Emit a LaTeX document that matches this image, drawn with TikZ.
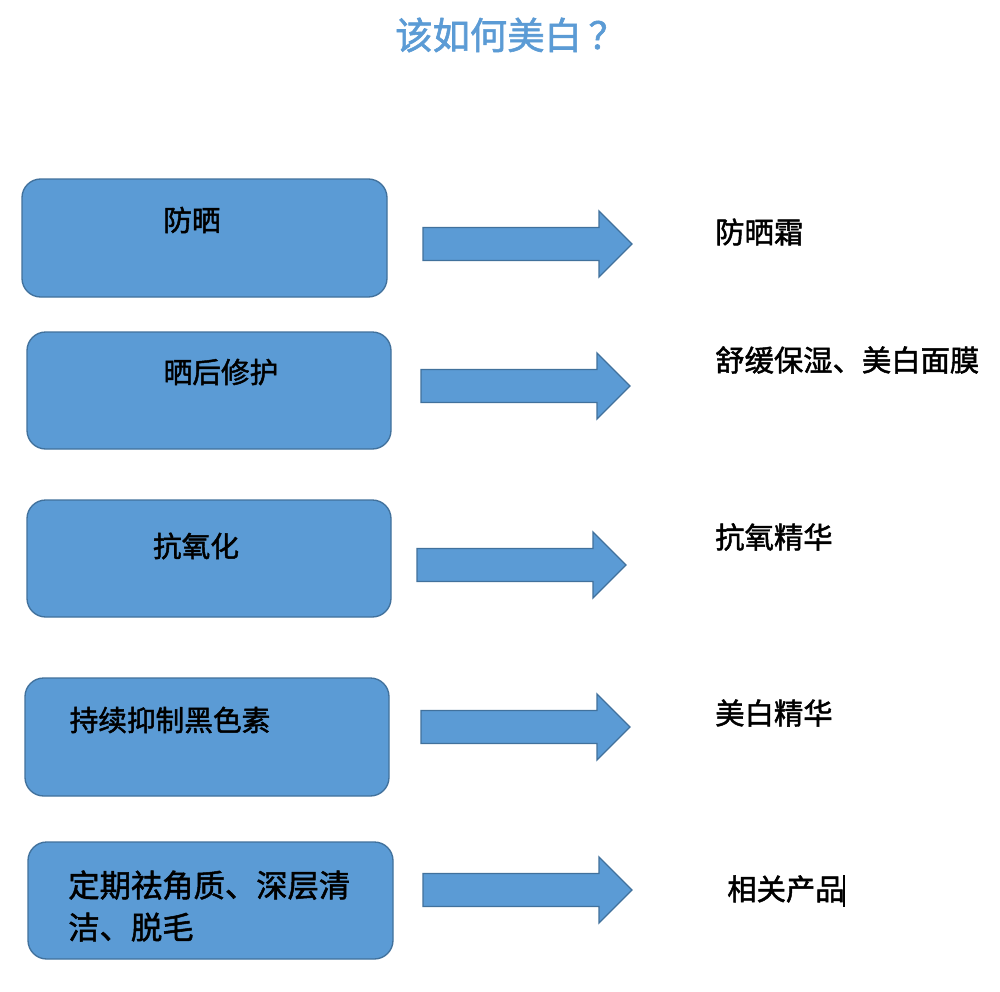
\documentclass[tikz,border=0pt]{standalone}
\usepackage{fontspec}
\setmainfont{Noto Sans CJK SC}[BoldFont=Noto Sans CJK SC, BoldFeatures={FakeBold=1.6}]
\definecolor{boxfill}{HTML}{5B9BD5}
\definecolor{boxedge}{HTML}{41719C}
\definecolor{titleblue}{HTML}{5B9BD5}
\newcommand\blkarrow[2]{\draw[blockarr] (#1,#2-16.5) -- ++(176,0) -- ++(0,-16.5) -- ++(33,33) -- ++(-33,33) -- ++(0,-16.5) -- ++(-176,0) -- cycle;}
\begin{document}
\begin{tikzpicture}[x=0.75pt,y=-0.75pt,
  box/.style={draw=boxedge, fill=boxfill, line width=1pt, rounded corners=14pt},
  blockarr/.style={draw=boxedge, fill=boxfill, line width=1pt, line join=miter},
  boxtext/.style={inner sep=0pt, font=\bfseries\fontsize{21.5pt}{26pt}\selectfont, text=black},
  righttext/.style={inner sep=0pt, anchor=west, font=\bfseries\fontsize{22pt}{26pt}\selectfont, text=black}]
\useasboundingbox[fill=white] (0,0) rectangle (1000,992);

\node[inner sep=0pt, anchor=west, text=titleblue, font=\bfseries\fontsize{28pt}{30pt}\selectfont] (title) at (395,35) {该如何美白\hspace{5pt}？};

% boxes
\draw[box] (22,179) rectangle (387,297);
\draw[box] (27,332) rectangle (391,449);
\draw[box] (27,500) rectangle (391,617);
\draw[box] (25,678) rectangle (389,796);
\draw[box] (28,842) rectangle (393,959);

\node[boxtext] (t1) at (192,220) {防晒};
\node[boxtext] (t2) at (221,372) {晒后修护};
\node[boxtext] (t3) at (196,546) {抗氧化};
\node[boxtext] (t4) at (170,720) {持续抑制黑色素};
\node[boxtext, anchor=west, align=left, font=\bfseries\fontsize{23.5pt}{31.5pt}\selectfont] (t5) at (68,906) {定期祛角质、深层清\\洁、脱毛};

% arrows
\blkarrow{423}{244}
\blkarrow{421}{386}
\blkarrow{417}{565}
\blkarrow{421}{727}
\blkarrow{423}{890}

% right texts
\node[righttext] (r1) at (715,232) {防晒霜};
\node[righttext] (r2) at (715,360) {舒缓保湿、美白面膜};
\node[righttext] (r3) at (715,537) {抗氧精华};
\node[righttext] (r4) at (715,713) {美白精华};
\node[righttext] (r5) at (727,889) {相关产品};
\draw[line width=1.4pt] (844,875) -- (844,907);
\end{tikzpicture}
\end{document}
